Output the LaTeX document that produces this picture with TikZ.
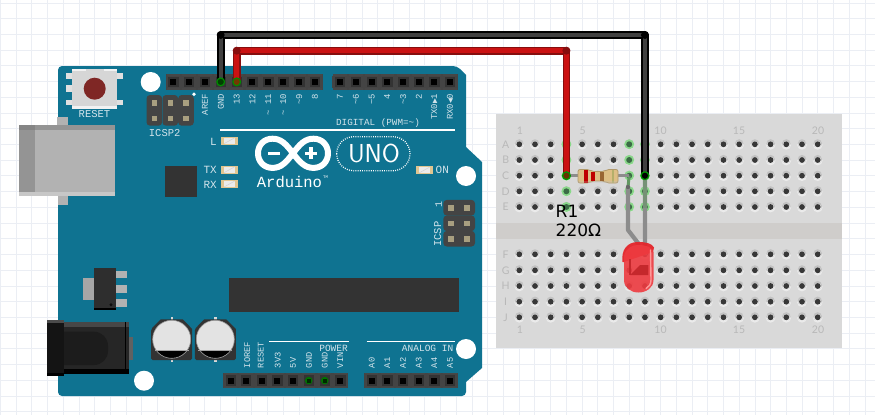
\documentclass[tikz,border=0pt]{standalone}
\usepackage{fontspec}
\setmainfont{Liberation Mono}
\newfontfamily\dejamono{DejaVu Sans Mono}
\newfontfamily\dejasans{DejaVu Sans}
\newfontfamily\latofont{Lato}
\definecolor{board}{HTML}{0F7391}
\definecolor{silk}{HTML}{D3E4EB}
\definecolor{gridc}{HTML}{EBEEF4}
\definecolor{bbody}{HTML}{D9D9D9}
\definecolor{bchan}{HTML}{CFCDCB}
\definecolor{hdr}{HTML}{444444}
\definecolor{chipc}{HTML}{333333}
\definecolor{wblack}{HTML}{404040}
\definecolor{wred}{HTML}{CB1212}
\definecolor{wredd}{HTML}{860E0E}
\definecolor{lead}{HTML}{8C8C8C}
\definecolor{tan}{HTML}{DDBF85}
\definecolor{pinpad}{HTML}{A89F80}
\definecolor{resetred}{HTML}{7F2725}
\definecolor{ledred}{HTML}{EE3B40}
\definecolor{ledrim}{HTML}{E4252B}
\definecolor{ledflat}{HTML}{C5282C}
\definecolor{greenhalo}{HTML}{8AD88A}
\definecolor{greenhole}{HTML}{3B6B45}
\tikzset{
  silktext/.style={text=silk,inner sep=0pt,font=\fontsize{#1}{#1}\selectfont},
  silktext/.default=9,
  pinup/.style={silktext=8.9,rotate=90,anchor=east},
  pinlow/.style={silktext=8.7,rotate=90,anchor=west},
  bblabel/.style={text=black!28,inner sep=0pt,font=\latofont\fontsize{10.5}{10.5}\selectfont},
}
\newcommand{\hdrpin}[2]{%
  \fill[black!72] (#1-6.6,#2-7.6) rectangle (#1+6.6,#2+7.6);
  \fill[hdr] (#1-7.8,#2-6.4) rectangle (#1+7.8,#2+6.4);
  \fill[black!80] (#1-5.2,#2-5.2) rectangle (#1+5.2,#2+5.2);
  \fill[black] (#1-3,#2-3) rectangle (#1+3,#2+3);}
\newcommand{\hdrgreen}[2]{%
  \fill[black!80] (#1-5.2,#2-5.2) rectangle (#1+5.2,#2+5.2);
  \fill[green!45!black] (#1,#2) circle (3.8);
  \fill[black!60!green!40!black] (#1-2,#2-2) rectangle (#1+2,#2+2);}
\newcommand{\smdled}[2]{%
  \fill[tan!90!white] (#1,#2) rectangle (#1+16.7,#2+8.3);
  \fill[white!92!black] (#1+2.6,#2+1) rectangle (#1+14,#2+7.3);
  \draw[black!18,line width=.5pt] (#1+3,#2+7) -- (#1+13.5,#2+1.2);}
\newcommand{\bbhole}[2]{%
  \fill[black!8] (#1,#2+.5) circle (4.9);
  \fill[black!24] (#1,#2-.7) circle (4.4);
  \fill[black!8] (#1,#2+.6) circle (3.6);
  \fill[black!78] (#1,#2) circle (2.9);}
\newcommand{\bbgreen}[2]{%
  \fill[greenhalo] (#1,#2) circle (5);
  \fill[greenhole] (#1,#2) circle (3);}
\begin{document}
\begin{tikzpicture}[x=1pt,y=-1pt,line join=round]
\useasboundingbox (0,0) rectangle (875,415);
\fill[white] (0,0) rectangle (875,415);
% grid
\foreach \k in {0,...,55}{\draw[gridc,line width=.9pt] (0.4+15.72*\k,0) -- (0.4+15.72*\k,415);}
\foreach \k in {0,...,26}{\draw[gridc,line width=.9pt] (0,3+15.72*\k) -- (875,3+15.72*\k);}

% ---------- Arduino board
\fill[board,rounded corners=4pt] (58,396) -- (58,66) -- (230,66) -- (457,66) [sharp corners] -- (466,75) -- (466,147) -- (482,162) -- (482,368) -- (466,382) [rounded corners=4pt] -- (466,396) -- cycle;
% mounting holes
\foreach \x/\y in {150.7/82,466/176,144/380.7,466/349}{\fill[white] (\x,\y) circle (10);}

% reset button
\fill[black!12] (66,72.5) rectangle (123.3,78.5);
\fill[black!12] (66,100) rectangle (123.3,105);
\fill[black!12] (66,85) rectangle (72,92);
\fill[black!16] (72,69) rectangle (117.3,109);
\fill[black!5] (72,68.5) rectangle (86,71);
\fill[black!5] (104,68.5) rectangle (117.3,71);
\fill[black!5] (72,106) rectangle (117.3,109);
\fill[black!16] (72,71) rectangle (117.3,106);
\fill[resetred] (94.7,88.7) circle (11);
\node (resetlbl) [silktext=10.5] at (94.5,114) {RESET};

% ICSP2
\foreach \x in {154.3,170.3,186}{
  \fill[hdr,rounded corners=3.5pt] (\x-7.8,95) rectangle (\x+7.8,125.7);
  \foreach \y in {102.7,118.3}{
    \fill[pinpad] (\x-2.8,\y-2.8) rectangle (\x+2.8,\y+2.8);}
}
\fill[white] (194,94.3) circle (1.9);
\node (icsptwo) [silktext=10.5] at (164.7,132.8) {ICSP2};

% USB connector
\fill[black!30] (57.3,116.7) rectangle (67.7,126);
\fill[black!30] (58.3,195) rectangle (67.7,205);
\fill[black!30] (19,125) rectangle (115.3,195.7);
\fill[black!42] (19,125) rectangle (35,192);
\fill[black!48] (19,125) rectangle (35,130);
\fill[black!42] (35,125) rectangle (115.3,130);
\fill[black!22] (19,192) rectangle (115.3,195.7);

% small chip
\fill[chipc] (165.3,166) rectangle (196.7,197.3);

% headers
\fill[hdr] (166,74) rectangle (323.3,90);
\foreach \x in {173.3,189,205,220.7,236.7,252.3,268.3,283.3,299.3,315}{\hdrpin{\x}{81.9}}
\fill[hdr] (332.7,74) rectangle (457.7,90);
\foreach \x in {340,356,371.7,387.3,403.3,419,434.3,450}{\hdrpin{\x}{81.9}}
\fill[hdr] (222.7,372.7) rectangle (348,388.3);
\foreach \x in {230.7,246,261.7,277.3,293,308.7,324.7,340.3}{\hdrpin{\x}{380.6}}
\fill[hdr] (364,372.7) rectangle (457.7,388.3);
\foreach \x in {371.7,387.3,403,418.7,434.3,450}{\hdrpin{\x}{380.6}}
\hdrgreen{308.7}{380.6}
\hdrgreen{324.7}{380.6}

% top pin labels
\node (lbaref) [pinup] at (205,93.5) {AREF};
\node (lbgnd) [pinup] at (221,93.5) {GND};
\foreach \x/\t [count=\i] in {236.7/13,252.3/12,268.3/\textasciitilde{} 11,283.3/\textasciitilde{} 10,299.3/\textasciitilde 9,315/8,340/7,356/\textasciitilde 6,371.7/\textasciitilde 5,387.3/4,403.3/\textasciitilde 3,419/2}{
  \node (lbtop\i) [pinup] at (\x,93.5) {\t};
}
\node (lbtx) [pinup] at (434.3,93.5) {TX0{\dejamono\fontsize{8}{8}\selectfont ▶}1};
\node (lbrx) [pinup] at (450,93.5) {RX0{\dejamono\fontsize{8}{8}\selectfont ◀}0};
\node (lbdigital) [silktext=9.3] at (378,122.7) {DIGITAL (PWM=\textasciitilde)};
\draw[white,line width=1.5pt] (220,130) -- (455,130);

% on-board LEDs
\smdled{221}{136.7}
\smdled{221}{165.7}
\smdled{221}{180}
\smdled{416}{166}
\node (lbl) [silktext=11,anchor=east] at (217,141.7) {L};
\node (lbtxl) [silktext=11,anchor=east] at (217,170) {TX};
\node (lbrxl) [silktext=11,anchor=east] at (217,184.7) {RX};
\node (lbon) [silktext=11,anchor=west] at (435.5,170) {ON};

% logo
\draw[white,line width=6pt] (293,153.3) .. controls (286,144) and (281,138.7) .. (272.5,138.7) .. controls (264,138.7) and (258,145) .. (258,153.3) .. controls (258,161.6) and (264,167.9) .. (272.5,167.9) .. controls (281,167.9) and (286,162.6) .. (293,153.3) .. controls (300,144) and (305,138.7) .. (313.5,138.7) .. controls (322,138.7) and (328,145) .. (328,153.3) .. controls (328,161.6) and (322,167.9) .. (313.5,167.9) .. controls (305,167.9) and (300,162.6) .. (293,153.3) -- cycle;
\fill[white] (268.3,151.7) rectangle (280,155);
\fill[white] (305,151.7) rectangle (317,155);
\fill[white] (309.4,147.3) rectangle (312.6,159.3);
\node (lbarduino) [silktext=15.5,text=white] at (289.5,182) {Arduino};
\node (lbtm) [silktext=4,text=white] at (325.5,176.7) {TM};
\draw[white,line width=1.3pt,dash pattern=on .9pt off 1.3pt,rounded corners=16.9pt] (336.7,136.7) rectangle (410,170.7);
\node (lbuno) [text=white,inner sep=0pt,font=\sffamily\fontsize{26}{26}\selectfont] at (374,153.3) {UNO};

% right ICSP
\foreach \y in {207.7,223.3,238.7}{
  \fill[hdr,rounded corners=3.5pt] (443.3,\y-7.8) rectangle (475,\y+7.8);
  \foreach \x in {451,467}{
    \fill[pinpad] (\x-2.8,\y-2.8) rectangle (\x+2.8,\y+2.8);}
}
\node (lbone) [silktext=10,rotate=90] at (438.5,204) {1};
\node (lbicsp) [silktext=10.5,rotate=90] at (437.7,234) {ICSP};

% regulator
\fill[black!35] (82.7,277.7) rectangle (95,300);
\fill[black!30] (115,270.7) rectangle (126.7,278.3);
\fill[black!30] (115,285) rectangle (126.7,292.7);
\fill[black!30] (115,299.3) rectangle (126.7,307.3);
\fill[black!82] (94.3,267.7) rectangle (115.7,310);
\fill[black] (94.3,308) rectangle (115.7,310);
\fill[black!95] (111,304.7) circle (1.6);

% power jack
\fill[black!62] (128.7,336.7) rectangle (133,360);
\fill[black!85] (64,322.3) rectangle (128.7,374);
\fill[black!72] (64,322.3) rectangle (128.7,327);
\fill[black] (64,369) rectangle (128.7,374);
\begin{scope}
  \clip (64,325) rectangle (110,370);
  \fill[black!89,rounded corners=14pt] (40,331.7) rectangle (108,365);
\end{scope}
\fill[black!92] (47,320) rectangle (64,375.7);
\fill[black!70] (47,320) rectangle (64,323);
\fill[black] (47,373) rectangle (64,375.7);
\draw[black,line width=.6pt] (125,322.3) -- (125,374);

% capacitors
\foreach \x in {171.7,215.3}{
  \fill[black!15] (\x-1.2,317) rectangle (\x+1.2,321);
  \fill[black!15] (\x-1.2,359) rectangle (\x+1.2,362);
  \fill[chipc,rounded corners=1.5pt] (\x-20.5,360) -- (\x-20.5,329) [sharp corners] -- (\x-11,319.3) -- (\x+11,319.3) -- (\x+20.5,329) [rounded corners=1.5pt] -- (\x+20.5,360) -- cycle;
  \fill[black!11] (\x,339.3) circle (19);
  \begin{scope}
    \clip (\x-22,350.7) rectangle (\x+22,362);
    \fill[black] (\x,339.3) circle (19);
  \end{scope}
  \fill[black!35] (\x-17,350) rectangle (\x+17,351);
  \draw[black!40,line width=.6pt] (\x,339.3) circle (19);
}

% big chip
\fill[chipc] (229.3,277.7) rectangle (459,312.3);

% bottom labels
\draw[white,line width=1.5pt] (269,341.3) -- (348.7,341.3);
\draw[white,line width=1.5pt] (366.7,341.3) -- (455,341.3);
\node (lbpower) [silktext=9.5,anchor=east] at (348,348.8) {POWER};
\node (lbanalog) [silktext=9.5,anchor=east] at (453.5,348.8) {ANALOG IN};
\foreach \x/\t [count=\i] in {247.3/IOREF,260.7/RESET,277.7/3V3,293/5V,309/GND,324.7/GND,340.3/VIN,371.7/A0,387.3/A1,403/A2,418.7/A3,434.3/A4,450/A5}{
  \node (lbbot\i) [pinlow] at (\x,368.3) {\t};
}

% ---------- Breadboard
\fill[bbody] (496,114) rectangle (842,348.3);
\fill[bchan] (496,223.3) rectangle (842,239);
\foreach \k in {0,...,19}{
  \foreach \y in {144.3,160,175.7,191.3,207,254.3,270.3,286,301.7,317.3}{
    \bbhole{519.3+15.705*\k}{\y}
  }
}
\foreach \y in {144.3,160,175.7,191.3,207}{
  \bbgreen{566.4}{\y}
  \bbgreen{629.2}{\y}
  \bbgreen{644.9}{\y}
}
\foreach \x/\t [count=\i] in {520/1,582.7/5,660.5/10,739/15,818/20}{
  \node (numtop\i) [bblabel] at (\x,131) {\t};
  \node (numbot\i) [bblabel] at (\x,330) {\t};
}
\foreach \y/\t [count=\i] in {144.3/A,160/B,175.7/C,191.3/D,207/E,254.3/F,270.3/G,286/H,301.7/I,317.3/J}{
  \node (row\i) [bblabel] at (505.7,\y) {\t};
}

% named connection points
\coordinate (pinGND) at (220.7,81.9);
\coordinate (pinD13) at (236.7,81.9);
\coordinate (bendKa) at (220.7,35);
\coordinate (bendKb) at (644.9,35);
\coordinate (holeK) at (644.9,175.7);
\coordinate (bendRa) at (236.7,50.7);
\coordinate (bendRb) at (566.4,50.7);
\coordinate (holeR) at (566.4,175.7);
\coordinate (holeRes) at (629.2,175.7);
\coordinate (ledKtop) at (628,187);
\coordinate (ledKa) at (628,230);
\coordinate (ledKb) at (638,243);
\coordinate (ledKc) at (638,255);
\coordinate (ledAb) at (645,255);

% LED leads
\draw[greenhalo!70!black,line width=3pt] (holeRes) -- (ledKtop);
\draw[lead,line width=4.2pt] (ledKtop) -- (ledKa) -- (ledKb) -- (ledKc);
\fill[black!60] (ledKtop) circle (2.2);
\draw[lead,line width=4.2pt] (holeK) -- (ledAb);
\draw[greenhalo!70!black,line width=4.2pt,opacity=.5] (holeK) -- (644.9,208);

% resistor
\draw[lead,line width=3.5pt] (holeR) -- (holeRes);
\fill[tan,draw=tan!80!black,line width=.8pt,rounded corners=2pt] (578,169.5) -- (589,169.5) -- (592,171.5) -- (604,171.5) -- (607,169.5) -- (618,169.5) -- (618,183) -- (607,183) -- (604,181) -- (592,181) -- (589,183) -- (578,183) -- cycle;
\fill[red!75!black] (584,169.5) rectangle (588,183);
\fill[red!75!black] (591.3,171.5) rectangle (595,181);
\fill[brown!80!black] (599.8,171.5) rectangle (603.5,181);
\fill[yellow!55!black!75!white] (611.5,169.5) rectangle (614,183);
\fill[black!25,opacity=.25] (578,180.5) rectangle (618,183);

% LED body
\fill[ledrim,opacity=.95] (622.5,262) .. controls (621,250) and (627,242) .. (638,242) .. controls (646,242) and (652,243.5) .. (654,247.5) -- (653,252) -- (624,262) -- cycle;
\fill[ledred,opacity=.9] (624,256) .. controls (626,248) and (632,245) .. (638,245) .. controls (646,245) and (652,247) .. (653.5,252) -- (653.5,280) .. controls (653.5,288) and (646,292.5) .. (638.5,292.5) .. controls (631,292.5) and (624,288) .. (624,280) -- cycle;
\fill[ledflat] (630,275) -- (640,265) -- (648.3,265) -- (648.3,275) -- cycle;
\fill[ledflat] (629.3,259) rectangle (631.3,275);
\draw[red!40!white,line width=1.4pt,line cap=round] (650.5,250) -- (651,280) .. controls (651,284) and (649,287) .. (646,288.5);

% wires
\draw[black,line width=7.6pt] (pinGND) -- (bendKa) -- (bendKb) -- (holeK);
\draw[wblack,line width=4pt] (pinGND) -- (bendKa) -- (bendKb) -- (holeK);
\draw[wredd,line width=7.6pt] (pinD13) -- (bendRa) -- (bendRb) -- (holeR);
\draw[wred,line width=4.8pt] (pinD13) -- (bendRa) -- (bendRb) -- (holeR);
\fill[black] (bendKa) circle (4);
\fill[black] (bendKb) circle (4);
\fill[wredd] (bendRa) circle (4);
\fill[wredd] (bendRb) circle (4);
\filldraw[fill=black!75!green,draw=green!55!black,line width=1.2pt] (pinGND) circle (3.9);
\filldraw[fill=orange!45!black,draw=green!55!black,line width=1.2pt] (pinD13) circle (3.9);
\filldraw[fill=black,draw=green!60!black,line width=1.2pt] (holeK) circle (3.9);
\filldraw[fill=orange!40!black,draw=green!60!black,line width=1.2pt] (holeR) circle (3.9);

% part label
\node (rlabel) [inner sep=0pt,anchor=west,align=left,font=\dejasans\fontsize{17}{19}\selectfont] at (555.5,220.5) {R1\\220Ω};
\end{tikzpicture}
\end{document}
